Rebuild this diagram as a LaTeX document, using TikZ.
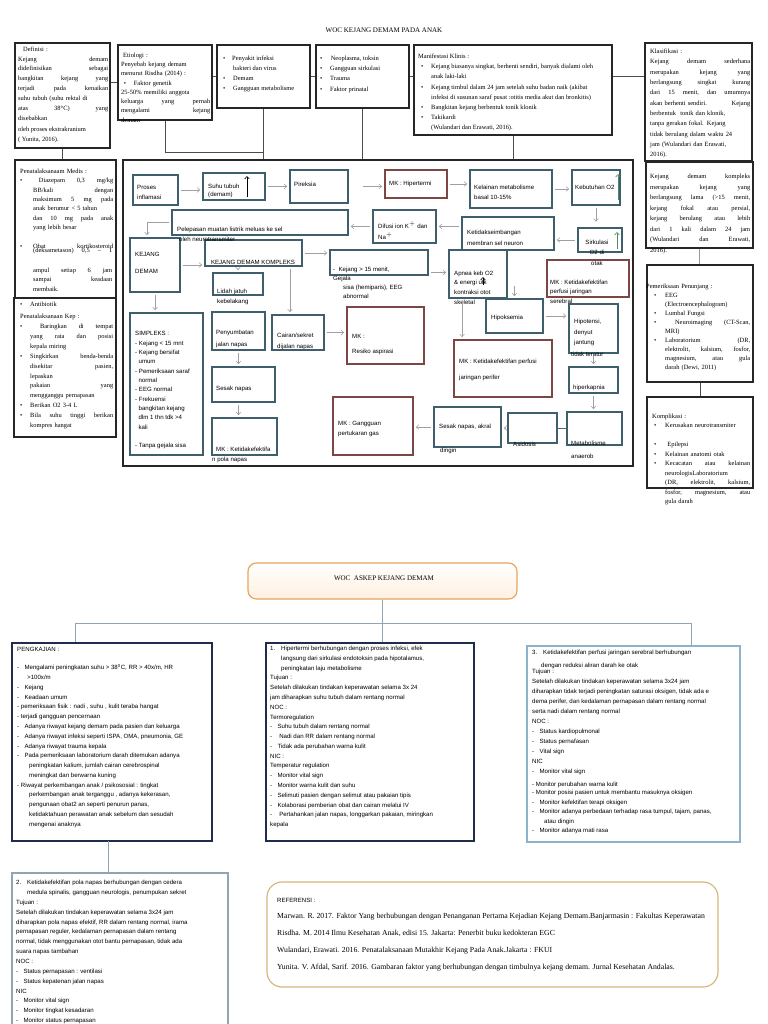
\documentclass[tikz,border=0pt]{standalone}
\usepackage{fontspec}
\setmainfont{Liberation Serif}
\setsansfont{Liberation Sans}
\usetikzlibrary{fit,arrows.meta}

\definecolor{wocteal}{HTML}{3E5F6B}
\definecolor{wocmk}{HTML}{7E4545}
\definecolor{wocarrow}{HTML}{A0A0A0}
\definecolor{wocnavy}{HTML}{1F2D4D}
\definecolor{woclblue}{HTML}{8DB3CC}
\definecolor{wocorange}{HTML}{E5A55E}
\definecolor{woctan}{HTML}{D8B67E}
\definecolor{wocline}{HTML}{8FA6B2}
\definecolor{wocgreen}{HTML}{4E8A6A}

\newlength\wocbulw
\setlength\wocbulw{0.3cm}
\newcommand\wocbul{\makebox[\wocbulw][l]{\textbullet}}
\newcommand\wocind{\hspace*{\wocbulw}}
\newcommand\wocdash{\makebox[0.22cm][l]{-}}

\tikzset{
  topbox/.style={draw=black!85, line width=1.1pt, inner sep=0pt},
  flowbox/.style={draw=wocteal, line width=0.9pt, inner sep=0pt},
  mkbox/.style={draw=wocmk, line width=1pt, inner sep=0pt},
  askbox/.style={draw=wocnavy, line width=1.2pt, inner sep=0pt},
  lbox/.style={draw=woclblue, line width=1pt, inner sep=0pt},
  stxt/.style={font=\fontsize{5.5}{8.4}\selectfont, align=left, anchor=west, inner sep=0pt},
  ftxt/.style={font=\sffamily\fontsize{5.2}{8.5}\selectfont, align=left, anchor=west, inner sep=0pt},
  btxt/.style={font=\sffamily\fontsize{5.2}{8.35}\selectfont, align=left, anchor=west, inner sep=0pt},
  tline/.style={draw=black!70, line width=0.5pt},
  farr/.style={->, draw=wocarrow, line width=0.5pt, shorten <=2pt, shorten >=2pt},
  uparr/.style={->, line width=0.5pt},
  askline/.style={draw=wocline, line width=0.6pt}
}

\begin{document}
\begin{tikzpicture}[x=0.03cm, y=-0.03cm, >={Straight Barb[length=2.2pt,width=4pt]}]
\useasboundingbox[fill=white] (0,0) rectangle (768,1024);

\node[font=\fontsize{6}{7}\selectfont] (title) at (384,30) {WOC KEJANG DEMAM PADA ANAK};

% top row
\node[topbox, fit={(15,43) (110,148)}] (def) {};
\node[stxt, text width=2.7cm] (def-t) at (18,83.5) {\hspace*{0.15cm}Definisi :\\
Kejang \hfill demam\\
didefinisikan \hfill sebagai\\
bangkitan \hfill kejang \hfill yang\\
terjadi \hfill pada \hfill kenaikan\\
suhu tubuh (suhu rektal di\\
atas \hfill 38°C) \hfill yang\\
disebabkan};
\node[stxt, font=\fontsize{5.5}{8.5}\selectfont] (def-t2) at (18,135) {oleh proses ekstrakranium\\( Yunita, 2016).};

\node[topbox, fit={(118,45) (212,120)}] (etio) {};
\node[stxt, text width=2.67cm, font=\fontsize{5.5}{7.9}\selectfont] (etio-t) at (121,87.5) {\hspace*{0.06cm}Etiologi :\\
Penyebab kejang demam\\
menurut Risdha (2014) :\\
\hspace*{0.08cm}\wocbul Faktor genetik\\
25-50\% memiliki anggota\\
keluarga \hfill yang \hfill pernah\\
mengalami \hfill kejang\\
demam};

\node[topbox, fit={(217,45) (310,108)}] (pen) {};
\node[stxt, font=\fontsize{5.5}{8.5}\selectfont] (pen-t) at (223,74) {\setlength\wocbulw{0.27cm}\wocbul Penyakit infeksi\\
\wocind bakteri dan virus\\
\wocbul Demam\\
\wocbul Gangguan metabolisme};

\node[topbox, fit={(316,45) (409,108)}] (neo) {};
\node[stxt, font=\fontsize{5.5}{8.8}\selectfont] (neo-t) at (320,74) {\setlength\wocbulw{0.27cm}\wocbul\ Neoplasma, toksin\\
\wocbul Gangguan sirkulasi\\
\wocbul Trauma\\
\wocbul Faktor prinatal};

\node[topbox, fit={(414,45) (612,135)}] (man) {};
\node[stxt, font=\fontsize{5.5}{8.65}\selectfont] (man-t) at (418,92.5) {\setlength\wocbulw{0.33cm}Manifestasi Klinis :\\
\hspace*{0.09cm}\wocbul Kejang biasanya singkat, berhenti sendiri, banyak dialami oleh\\
\hspace*{0.09cm}\wocind anak laki-laki\\
\hspace*{0.09cm}\wocbul Kejang timbul dalam 24 jam setelah suhu badan naik (akibat\\
\hspace*{0.09cm}\wocind infeksi di susunan saraf pusat :otitis media akut dan bronkitis)\\
\hspace*{0.09cm}\wocbul Bangkitan kejang berbentuk tonik klonik\\
\hspace*{0.09cm}\wocbul Takikardi\\
\hspace*{0.09cm}\wocind (Wulandari dan Erawati, 2016).};

\node[topbox, fit={(645,43) (752,161)}] (klas) {};
\node[stxt, text width=3.0cm, font=\fontsize{5.5}{8.8}\selectfont] (klas-t) at (650,103.5) {Klasifikasi :\\
Kejang \hfill demam \hfill sederhana\\
merupakan \hfill kejang \hfill yang\\
berlangsung \hfill singkat \hfill kurang\\
dari \hfill 15 \hfill menit, \hfill dan \hfill umumnya\\
akan berhenti sendiri. \hfill Kejang\\
berbentuk \ tonik dan klonik,\\
tanpa gerakan fokal. Kejang\\
tidak berulang dalam waktu 24\\
jam (Wulandari dan Erawati,\\
2016).};

\node[topbox, fit={(646,162) (753,248)}] (komp) {};
\node[stxt, text width=3.0cm, font=\fontsize{5.5}{9}\selectfont] (komp-t) at (650,214) {Kejang \hfill demam \hfill kompleks\\
merupakan \hfill kejang \hfill yang\\
berlangsung \hfill lama \hfill (>15 \hfill menit,\\
kejang \hfill fokal \hfill atau \hfill persial,\\
kejang \hfill berulang \hfill atau \hfill lebih\\
dari \hfill 1 \hfill kali \hfill dalam \hfill 24 \hfill jam\\
(Wulandari \hfill dan \hfill Erawati,\\
2016).};

\node[topbox, fit={(647,265) (753,382)}] (peri) {};
\node[stxt, text width=3.12cm, font=\fontsize{5.5}{7.7}\selectfont] (peri-t) at (646,327.5) {\setlength\wocbulw{0.33cm}Pemeriksaan Penunjang :\\
\hspace*{0.24cm}\wocbul EEG\\
\hspace*{0.24cm}\wocind (Electroencephalogram)\\
\hspace*{0.24cm}\wocbul Lumbal Fungsi\\
\hspace*{0.24cm}\wocbul\hfill Neuroimaging \hfill (CT-Scan,\\
\hspace*{0.24cm}\wocind MRI)\\
\hspace*{0.24cm}\wocbul Laboratorium \hfill (DR,\\
\hspace*{0.24cm}\wocind elektrolit, \hfill kalsium, \hfill fosfor,\\
\hspace*{0.24cm}\wocind magnesium, \hfill atau \hfill gula\\
\hspace*{0.24cm}\wocind darah (Dewi, 2011)};

\node[topbox, fit={(647,397) (753,488)}] (kompl) {};
\node[stxt, text width=2.94cm, font=\fontsize{5.5}{8.06}\selectfont] (kompl-t) at (652,459.5) {\setlength\wocbulw{0.33cm}Komplikasi :\\
\hspace*{0.06cm}\wocbul Kerusakan neurotransmiter\\
\mbox{}\\
\hspace*{0.06cm}\wocbul\ Epilepsi\\
\hspace*{0.06cm}\wocbul Kelainan anatomi otak\\
\hspace*{0.06cm}\wocbul Kecacatan \hfill atau \hfill kelainan\\
\hspace*{0.06cm}\wocind neurologisLaboratorium\\
\hspace*{0.06cm}\wocind (DR, \hfill elektrolit, \hfill kalsium,\\
\hspace*{0.06cm}\wocind fosfor, \hfill magnesium, \hfill atau\\
\hspace*{0.06cm}\wocind gula darah};

% left column
\node[topbox, fit={(15,160) (116,298)}] (medis) {};
\node[stxt, text width=2.79cm, font=\fontsize{5.5}{7.97}\selectfont] (medis-t) at (20,200) {\setlength\wocbulw{0.27cm}Penatalaksanaam Medis :\\
\wocbul\hfill Diazepam \hfill 0,3 \hfill mg/kg\\
\hspace*{0.39cm}BB/kali \hfill dengan\\
\hspace*{0.39cm}maksimum \hfill 5 \hfill mg \hfill pada\\
\hspace*{0.39cm}anak berumur < 5 tahun\\
\hspace*{0.39cm}dan \hfill 10 \hfill mg \hfill pada \hfill anak\\
\hspace*{0.39cm}yang lebih besar};
\node[stxt, text width=2.79cm] (obat-t) at (20,246) {\setlength\wocbulw{0.39cm}\wocbul Obat \hfill kortikosteroid};
\node[stxt, text width=2.37cm] (deks-t) at (33,251) {(deksametason) \hfill 0,5 \hfill – \hfill 1};
\node[stxt, text width=2.37cm, font=\fontsize{5.5}{8.1}\selectfont] (ampul-t) at (33,279.5) {ampul \hfill setiap \hfill 6 \hfill jam\\
sampai \hfill keadaan\\
membaik.};

\node[topbox, fit={(14,298) (116,437)}] (anti) {};
\node[stxt] (anti-t0) at (20,304) {\setlength\wocbulw{0.3cm}\wocbul Antibiotik};
\node[stxt, text width=2.79cm, font=\fontsize{5.5}{8.46}\selectfont] (anti-t) at (20,371.5) {\setlength\wocbulw{0.3cm}Penatalaksanaan Kep :\\
\wocbul\hfill Baringkan \hfill di \hfill tempat\\
\wocind yang \hfill rata \hfill dan \hfill posisi\\
\wocind kepala miring\\
\wocbul Singkirkan \hfill benda-benda\\
\wocind disekitar \hfill pasien,\\
\wocind lepaskan\\
\wocind pakaian \hfill yang\\
\wocind mengganggu pernapasan\\
\wocbul Berikan O2 3-4 L\\
\wocbul Bila \hfill suhu \hfill tinggi \hfill berikan\\
\wocind kompres hangat};

% flow frame
\node[draw=black!85, line width=0.9pt, inner sep=0pt, fit={(123,160) (633,466)}] (frame) {};
\draw[line width=1.6pt, black!85] (frame.south west) -- (frame.south east);

% top connectors
\draw[tline] (etio.west) -- (etio.west -| def.east);
\draw[tline] (pen.west) -- (pen.west -| etio.east);
\draw[tline] (neo.west) -- (neo.west -| pen.east);
\draw[tline] (neo.east) -- (neo.east -| man.west);
\draw[tline] (man.east |- neo.east) -- (klas.west |- neo.east);
\draw[tline] (def.south) -- (def.south |- medis.north);
\draw[tline] (etio.south) |- ([yshift=-1.32cm]pen.south);
\draw[tline] (pen.south) -- (pen.south |- frame.north);
\draw[tline] (neo.south) -- (neo.south |- frame.north);
\draw[tline] (man.south) -- (man.south |- frame.north);
\draw[tline, black!40] (komp.south) -- (komp.south |- peri.north);
\draw[tline] (peri.south) -- (peri.south |- kompl.north);

% flow boxes
\node[flowbox, fit={(133,175) (178,205)}] (inflam) {};
\node[ftxt] (inflam-t) at (137,192) {Proses\\inflamasi};
\node[flowbox, fit={(203,173) (265,200)}] (suhu) {};
\node[ftxt, font=\sffamily\fontsize{5.2}{6.8}\selectfont] (suhu-t) at (208,191) {Suhu tubuh\\(demam)};
\node[flowbox, fit={(290,170) (348,203)}] (pir) {};
\node[ftxt] (pir-t) at (294,184) {Pireksia};
\node[mkbox, fit={(385,170) (447,198)}] (mkhip) {};
\node[ftxt] (mkhip-t) at (389,184) {MK : Hipertermi};
\node[flowbox, fit={(470,170) (552,208)}] (kel) {};
\node[ftxt] (kel-t) at (474,192) {Kelainan metabolisme\\basal 10-15\%};
\node[flowbox, fit={(572,170) (620,205)}] (kebO2) {};
\node[ftxt] (keb-t) at (575,187) {Kebutuhan O2};
\node[flowbox, fit={(578,228) (622,252)}] (sirk) {};
\node[ftxt, align=center, anchor=center, font=\sffamily\fontsize{5.2}{9}\selectfont] (sirk-t) at (597,252.5) {Sirkulasi\\O2 di\\otak};
\node[flowbox, fit={(462,217) (554,250)}] (ketseim) {};
\node[ftxt, font=\sffamily\fontsize{5.2}{9.4}\selectfont] (ketseim-t) at (467,237.5) {Ketidakseimbangan\\membran sel neuron};
\node[flowbox, fit={(373,210) (436,243)}] (difusi) {};
\node[ftxt, font=\sffamily\fontsize{5.2}{9.4}\selectfont] (difusi-t) at (378,230.5) {Difusi ion K$^+$ dan\\Na$^+$};
\node[flowbox, fit={(172,210) (348,235)}] (lepas) {};
\node[ftxt] (lepas-t) at (177,230) {Pelepasan muatan listrik meluas ke sel};
\node[flowbox, fit={(130,238) (180,292)}] (kejang) {};
\node[ftxt, font=\sffamily\fontsize{5.2}{14.5}\selectfont] (kejang-t) at (135,262.5) {KEJANG\\DEMAM};
\node[flowbox, fit={(205,240) (302,266)}] (kdk) {};
\node[ftxt] (lepas-t2) at (179,239.5) {oleh neurotransmiter};
\node[ftxt, anchor=center] (kdk-t) at (253,262) {KEJANG DEMAM KOMPLEKS};
\node[flowbox, fit={(330,250) (428,275)}] (k15) {};
\node[ftxt] (k15-t) at (333,270) {-\ \ Kejang > 15 menit,};
\node[ftxt] (k15-t2) at (333,278.5) {Gejala};
\node[ftxt, font=\sffamily\fontsize{5.2}{7.7}\selectfont] (k15-t3) at (343,291.5) {sisa (hemiparis), EEG\\abnormal};
\node[flowbox, fit={(449,250) (507,298)}] (apnea) {};
\node[ftxt, font=\sffamily\fontsize{5.2}{8.25}\selectfont] (apnea-t) at (454,287.5) {Apnea keb O2\\\& energi utk\\kontraksi otot\\skeletal};
\node[flowbox, fit={(213,273) (263,295)}] (lidah) {};
\node[ftxt] (lidah-t) at (217,297) {Lidah jatuh\\kebelakang};
\node[flowbox, fit={(130,313) (203,455)}] (simp) {};
\node[ftxt] (simp-t0) at (135,333) {SIMPLEKS :};
\node[ftxt, font=\sffamily\fontsize{5.2}{7.97}\selectfont] (simp-t) at (135,385) {- Kejang < 15 mnt\\
- Kejang bersifat\\
\ \ umum\\
- Pemeriksaan saraf\\
\ \ normal\\
- EEG normal\\
- Frekuensi\\
\ \ bangkitan kejang\\
\ \ dlm 1 thn tdk >4\\
\ \ kali};
\node[ftxt] (simp-t2) at (135,446) {- Tanpa gejala sisa};
\node[flowbox, fit={(212,312) (265,350)}] (peny) {};
\node[ftxt, font=\sffamily\fontsize{5.2}{10.2}\selectfont] (peny-t) at (216,339) {Penyumbatan\\jalan napas};
\node[flowbox, fit={(272,315) (324,350)}] (cair) {};
\node[ftxt, font=\sffamily\fontsize{5.2}{9.4}\selectfont] (cair-t) at (277,341.5) {Cairan/sekret\\dijalan napas};
\node[mkbox, fit={(347,307) (424,364)}] (mkasp) {};
\node[ftxt, font=\sffamily\fontsize{5.2}{12.8}\selectfont] (mkasp-t) at (352,344.5) {MK :\\Resiko aspirasi};
\node[flowbox, fit={(212,367) (275,402)}] (sesak) {};
\node[ftxt] (sesak-t) at (216,389) {Sesak napas};
\node[flowbox, fit={(212,418) (277,455)}] (mkpola) {};
\node[ftxt] (mkpola-t) at (216,449) {MK : Ketidakefektifa};
\node[ftxt] (mkpola-t2) at (212,460) {n pola napas};
\node[flowbox, fit={(486,299) (543,333)}] (hipoks) {};
\node[ftxt] (hipoks-t) at (491,318) {Hipoksemia};
\node[flowbox, fit={(569,304) (618,353)}] (hipot) {};
\node[ftxt, font=\sffamily\fontsize{5.2}{9}\selectfont] (hipot-t) at (574,332.5) {Hipotensi,\\denyut\\jantung};
\node[ftxt] (hipot-t2) at (571,354) {tidak teratur};
\node[mkbox, fit={(547,260) (629,297)}] (mkser) {};
\node[ftxt, font=\sffamily\fontsize{5.2}{8.1}\selectfont] (mkser-t) at (550,291.5) {MK : Ketidakefektifan\\perfusi jaringan\\serebral};
\node[mkbox, fit={(454,340) (552,397)}] (mkper) {};
\node[ftxt, font=\sffamily\fontsize{5.2}{13.6}\selectfont] (mkper-t) at (459,370) {MK : Ketidakefektifan perfusi\\jaringan perifer};
\node[flowbox, fit={(569,367) (618,393)}] (hiperk) {};
\node[ftxt] (hiperk-t) at (573,388) {hiperkapnia};
\node[flowbox, fit={(567,412) (622,445)}] (metab) {};
\node[ftxt, font=\sffamily\fontsize{5.2}{11}\selectfont] (metab-t) at (571,449.5) {Metabolisme\\anaerob};
\node[flowbox, fit={(508,413) (557,443)}] (asid) {};
\node[ftxt] (asid-t) at (513,444) {Asidosis};
\node[flowbox, fit={(434,407) (501,447)}] (sesak2) {};
\node[ftxt] (sesak2-t) at (439,427) {Sesak napas, akral};
\node[ftxt] (sesak2-t2) at (440,451) {dingin};
\node[mkbox, fit={(333,397) (413,455)}] (mkgas) {};
\node[ftxt] (mkgas-t) at (338,429) {MK : Gangguan\\pertukaran gas};

% rising marks
\draw[uparr] (247,197) -- (247,176);
\draw[uparr, wocgreen] (618,200) -- (618,174);
\draw[uparr, wocgreen] (617,249) -- (617,232);
\draw[uparr] (483,285) -- (483,277);

% flow arrows
\draw[farr] (inflam.east) -- (inflam.east -| suhu.west);
\draw[farr] (suhu.east) -- (suhu.east -| pir.west);
\draw[farr, shorten <=12pt] (pir.east) -- (pir.east -| mkhip.west);
\draw[farr] (mkhip.east) -- (mkhip.east -| kel.west);
\draw[farr] (kel.east) -- (kel.east -| kebO2.west);
\draw[farr, shorten >=5pt] (kebO2.south) -- (kebO2.south |- sirk.north);
\draw[farr] (sirk.west) -- (sirk.west -| ketseim.east);
\draw[farr] (difusi.east -| ketseim.west) -- (difusi.east);
\draw[farr] (difusi.west) -- (difusi.west -| lepas.east);
\draw[farr] (lepas.west) -| ([xshift=-0.24cm]kejang.north);
\draw[farr] (kejang.east) -- (kejang.east -| kdk.west);
\draw[farr] (kdk.east) -- (kdk.east -| k15.west);
\draw[farr] ([yshift=-0.3cm]k15.east) -- ([yshift=-0.3cm]k15.east -| apnea.west);
\draw[farr] (kdk.south -| lidah.north) -- (lidah.north);
\coordinate (cairtop) at ([xshift=-0.24cm]cair.north);
\draw[farr] (kdk.south -| cairtop) -- (cairtop);
\draw[farr] (kejang.south) -- (kejang.south |- simp.north);
\draw[farr] (cair.east) -- (cair.east -| mkasp.west);
\draw[farr] (peny.south) -- (peny.south |- sesak.north);
\draw[farr] (sesak.south -| peny.south) -- (mkpola.north -| peny.south);
\coordinate (hk) at (hipoks.north);
\draw[farr] ([yshift=0.45cm]hk) -- (hk);
\coordinate (ap) at ([xshift=-0.48cm]apnea.south);
\draw[farr] (ap) -- (ap |- mkper.north);
\draw[farr] (hipoks.east) -- (hipoks.east -| hipot.west);
\draw[farr] (hipot.south) -- (hipot.south |- hiperk.north);
\draw[farr] (hiperk.south) -- (hiperk.south |- metab.north);
\draw[draw=black!60, line width=0.5pt] (metab.west) -- (metab.west -| asid.east);
\draw[farr] (asid.west) -- (asid.west -| sesak2.east);
\draw[farr] (sesak2.west) -- (sesak2.west -| mkgas.east);

% askep part
\node[draw=wocorange, line width=1pt, rounded corners=0.25cm, inner sep=0pt,
  top color=white, bottom color=orange!12, fit={(248,563) (517,599)}] (asktitle) {};
\node[font=\fontsize{6}{7}\selectfont] (asktitle-t) at (384,578) {WOC \ ASKEP KEJANG DEMAM};

\node[askbox, fit={(12,643) (212,841)}] (pengk) {};
\node[askbox, fit={(266,643) (474,841)}] (dx1) {};
\node[lbox, fit={(527,646) (740,842)}] (dx3) {};
\node[lbox, draw=wocline, fit={(12,873) (228,1035)}] (dx2) {};

\coordinate (hl) at (75,623);
\coordinate (hr) at (691,623);
\draw[askline] (asktitle.south) -- (asktitle.south |- dx1.north);
\draw[askline] (hl) -- (hr);
\draw[askline] (hl) -- (hl |- pengk.north);
\draw[askline] (hr) -- (hr |- dx3.north);
\coordinate (c2) at (108,841);
\draw[askline] (c2) -- (c2 |- dx2.north);

\node[btxt] (pengk-t0) at (17,649) {PENGKAJIAN :};
\node[btxt] (pengk-t) at (17,746) {\wocdash Mengalami peningkatan suhu > 38\textsuperscript{0}C, RR > 40x/m, HR\\
\hspace*{0.3cm}>100x/m\\
\wocdash Kejang\\
\wocdash Keadaan umum\\
- pemeriksaan fisik : nadi , suhu , kulit teraba hangat\\
- terjadi gangguan pencernaan\\
\wocdash Adanya riwayat kejang demam pada pasien dan keluarga\\
\wocdash Adanya riwayat infeksi seperti ISPA, OMA, pneumonia, GE\\
\wocdash Adanya riwayat trauma kepala\\
\wocdash Pada pemeriksaan laboratorium darah ditemukan adanya\\
\hspace*{0.36cm}peningkatan kalium, jumlah cairan cerebrospinal\\
\hspace*{0.36cm}meningkat dan berwarna kuning\\
- Riwayat perkembangan anak / psikososial : tingkat\\
\hspace*{0.36cm}perkembangan anak terganggu , adanya kekerasan,\\
\hspace*{0.36cm}pengunaan obat2 an seperti penurun panas,\\
\hspace*{0.36cm}ketidaktahuan perawatan anak sebelum dan sesudah\\
\hspace*{0.36cm}mengenai anaknya};

\node[btxt] (dx1-t) at (270,737) {\makebox[0.33cm][l]{1.}Hipertermi berhubungan dengan proses infeksi, efek\\
\hspace*{0.33cm}langsung dari sirkulasi endotoksin pada hipotalamus,\\
\hspace*{0.33cm}peningkatan laju metabolisme\\
Tujuan :\\
Setelah dilakukan tindakan keperawatan selama 3x 24\\
jam diharapkan suhu tubuh dalam rentang normal\\
NOC :\\
Termoregulation\\
\wocdash Suhu tubuh dalam rentang normal\\
\wocdash\ Nadi dan RR dalam rentang normal\\
\wocdash Tidak ada perubahan warna kulit\\
NIC :\\
Temperatur regulation\\
\wocdash Monitor vital sign\\
\wocdash Monitor warna kulit dan suhu\\
\wocdash Selimuti pasien dengan selimut atau pakaian tipis\\
\wocdash Kolaborasi pemberian obat dan cairan melalui IV\\
\wocdash\ Pertahankan jalan napas, longgarkan pakaian, miringkan\\
kepala};

\node[btxt] (dx3-t0) at (532,653) {\makebox[0.33cm][l]{3.}Ketidakefektifan perfusi jaringan serebral berhubungan};
\node[btxt] (dx3-t1) at (541,666) {dengan reduksi aliran darah ke otak};
\node[btxt, font=\sffamily\fontsize{5.2}{8.54}\selectfont] (dx3-t) at (532,722) {Tujuan :\\
Setelah dilakukan tindakan keperawatan selama 3x24 jam\\
diharapkan tidak terjadi peningkatan saturasi oksigen, tidak ada e\\
dema perifer, dan kedalaman pernapasan dalam rentang normal\\
serta nadi dalam rentang normal\\
NOC :\\
\wocdash Status kardiopulmonal\\
\wocdash Status pernafasan\\
\wocdash Vital sign\\
NIC\\
\wocdash Monitor vital sign};
\node[btxt] (dx3-t2) at (532,785) {- Monitor perubahan warna kulit};
\node[btxt, font=\sffamily\fontsize{5.2}{8.1}\selectfont] (dx3-t3) at (532,812) {- Monitor posisi pasien untuk membantu masuknya oksigen\\
\wocdash Monitor kefektifan terapi oksigen\\
\wocdash Monitor adanya perbedaan terhadap rasa tumpul, tajam, panas,\\
\hspace*{0.36cm}atau dingin\\
\wocdash Monitor adanya mati rasa};

\node[btxt, font=\sffamily\fontsize{5.2}{8.41}\selectfont] (dx2-t) at (16,952) {\makebox[0.33cm][l]{2.}Ketidakefektifan pola napas berhubungan dengan cedera\\
\hspace*{0.33cm}medula spinalis, gangguan neurologis, penumpukan sekret\\
Tujuan :\\
Setelah dilakukan tindakan keperawatan selama 3x24 jam\\
diharapkan pola napas efektif, RR dalam rentang normal, irama\\
pernapasan reguler, kedalaman pernapasan dalam rentang\\
normal, tidak menggunakan otot bantu pernapasan, tidak ada\\
suara napas tambahan\\
NOC :\\
\wocdash Status pernapasan : ventilasi\\
\wocdash Status kepatenan jalan napas\\
NIC\\
\wocdash Monitor vital sign\\
\wocdash Monitor tingkat kesadaran\\
\wocdash Monitor status pernapasan};

% references
\node[draw=woctan, line width=1pt, rounded corners=0.45cm, inner sep=0pt, fit={(267,882) (718,987)}] (refs) {};
\node[btxt] (refs-t0) at (277,900) {REFERENSI :};
\node[stxt, font=\fontsize{6.6}{14.5}\selectfont] (refs-t) at (277,942.5) {Marwan. R. 2017. Faktor Yang berhubungan dengan Penanganan Pertama Kejadian Kejang Demam.Banjarmasin : Fakultas Keperawatan\\
Risdha. M. 2014 Ilmu Kesehatan Anak, edisi 15. Jakarta: Penerbit buku kedokteran EGC\\
Wulandari, Erawati. 2016. Penatalaksanaan Mutakhir Kejang Pada Anak.Jakarta : FKUI\\
Yunita. V. Afdal, Sarif. 2016. Gambaran faktor yang berhubungan dengan timbulnya kejang demam. Jurnal Kesehatan Andalas.};
\end{tikzpicture}
\end{document}
